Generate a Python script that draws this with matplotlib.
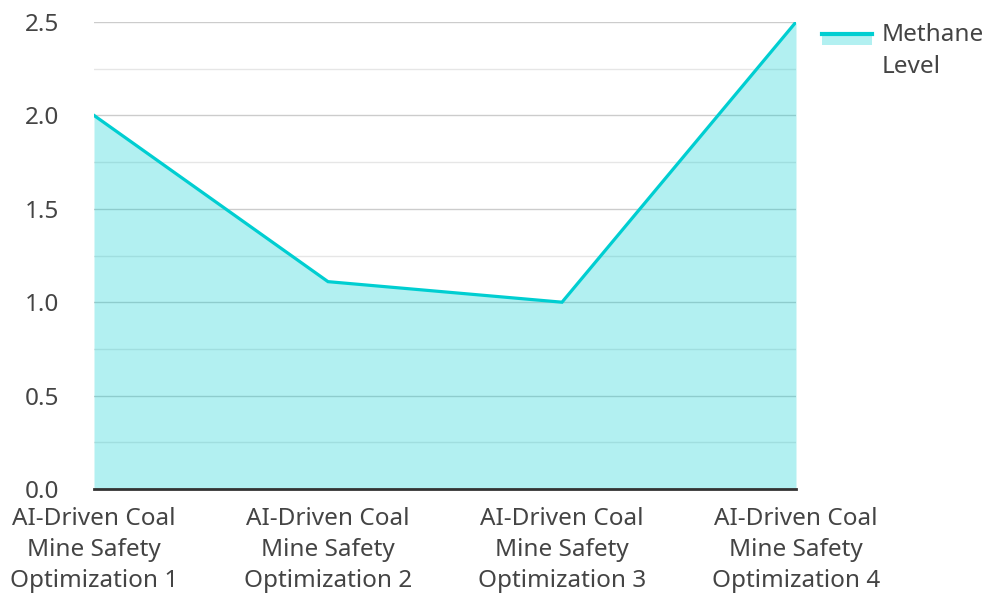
import numpy as np
import matplotlib.pyplot as plt
from matplotlib.patches import Rectangle
from matplotlib.lines import Line2D

plt.rcParams['font.family'] = ['Noto Sans', 'DejaVu Sans']

categories = ["AI-Driven Coal\nMine Safety\nOptimization 1",
              "AI-Driven Coal\nMine Safety\nOptimization 2",
              "AI-Driven Coal\nMine Safety\nOptimization 3",
              "AI-Driven Coal\nMine Safety\nOptimization 4"]
methane = [2.0, 1.11, 1.0, 2.5]
yticks = [0.0, 0.5, 1.0, 1.5, 2.0, 2.5]
series_name = "Methane\nLevel"

line_color = "#00CED1"
text_color = "#444444"

fig = plt.figure(figsize=(9.86, 5.94), dpi=100)
ax = fig.add_axes([94/986, 1-489/594, (796-94)/986, (489-22)/594])

x = np.arange(len(categories))
ax.fill_between(x, 0, methane, color=line_color, alpha=0.3, linewidth=0, zorder=2)
ax.plot(x, methane, color=line_color, linewidth=2.3, zorder=3, solid_joinstyle='miter')

ax.set_xlim(0, len(categories) - 1)
ax.set_ylim(0, 2.5)
ax.set_yticks(yticks)
ax.set_yticklabels([f"{v:.1f}" for v in yticks])
ax.set_yticks(np.arange(0.25, 2.5, 0.5), minor=True)
ax.set_xticks(x)
ax.set_xticklabels(categories, linespacing=1.4)

ax.grid(axis='y', which='major', color='#cccccc', linewidth=1, zorder=1)
ax.grid(axis='y', which='minor', color='#e6e6e6', linewidth=1, zorder=1)
ax.set_axisbelow(True)

for s in ['top', 'right', 'left']:
    ax.spines[s].set_visible(False)
ax.spines['bottom'].set_color('#333333')
ax.spines['bottom'].set_linewidth(2)
ax.spines['bottom'].set_zorder(4)

ax.tick_params(axis='both', which='both', length=0, labelsize=17.5, labelcolor=text_color)
ax.tick_params(axis='y', pad=25)
ax.tick_params(axis='x', pad=13)

# legend drawn by hand in figure pixels
fig.add_artist(Rectangle((822/986, 1-45/594), 50/986, 12/594,
                         transform=fig.transFigure, facecolor=line_color,
                         alpha=0.3, linewidth=0))
fig.add_artist(Line2D([822/986, 872/986], [1-34/594, 1-34/594],
                      transform=fig.transFigure, color=line_color, linewidth=3))
fig.text(882/986, 1-51/594, series_name, fontsize=17.5, color=text_color,
         va='center', ha='left', linespacing=1.48)

fig.savefig("out.png", dpi=100)
